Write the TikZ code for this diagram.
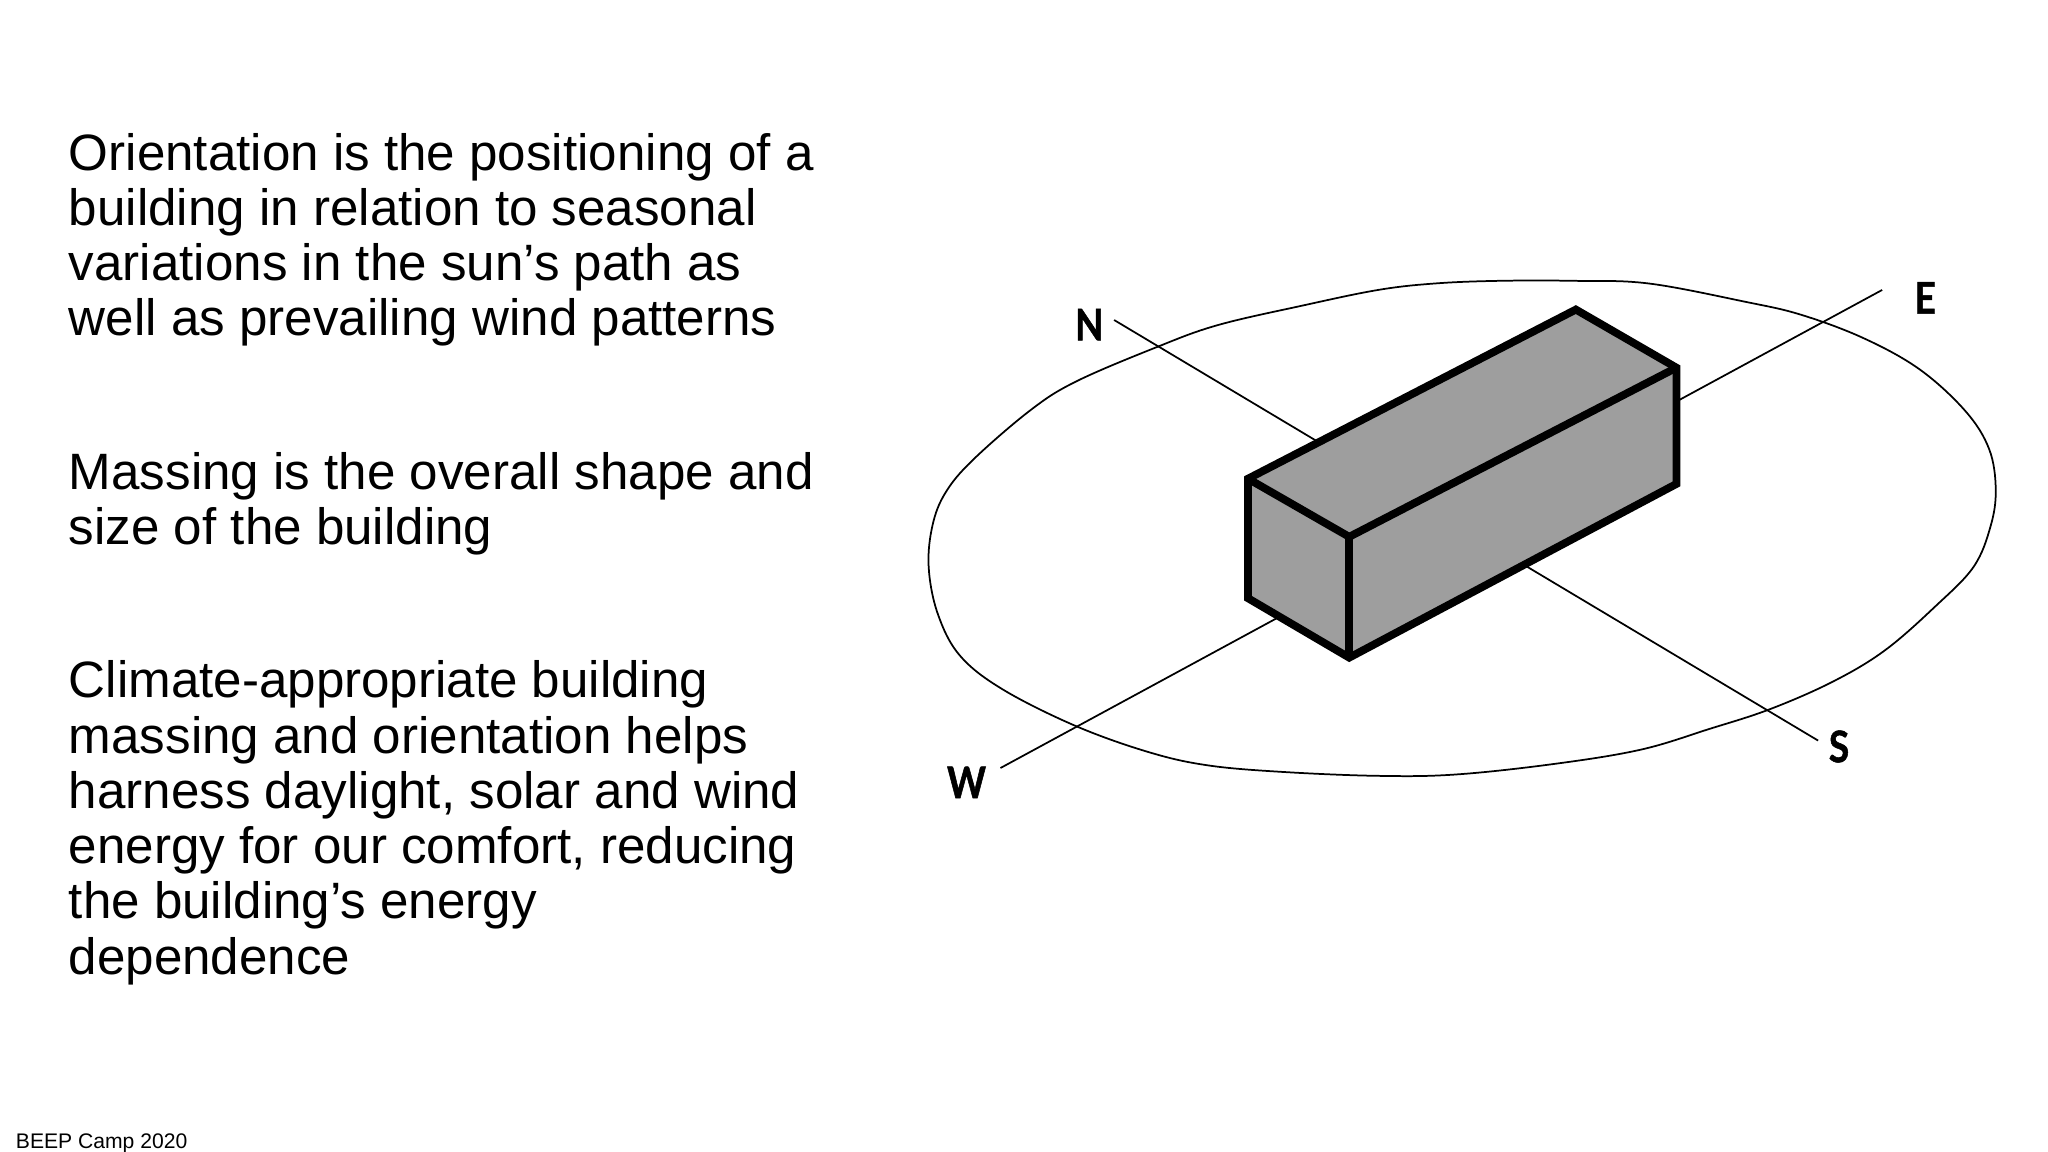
\documentclass[tikz,border=0pt]{standalone}
\usepackage{fontspec}
\setmainfont{Liberation Sans}
\newfontfamily\compassfont[FakeStretch=0.85,BoldFeatures={FakeBold=1.2}]{Lato}
\definecolor{massgray}{HTML}{9E9E9E}
\tikzset{
    bodytext/.style={anchor=north west, inner sep=0pt, align=left,
                     font=\fontsize{11.14pt}{12.03pt}\selectfont},
    compass/.style={inner sep=0pt, font=\compassfont\bfseries\fontsize{9.5pt}{10pt}\selectfont},
    axisline/.style={line width=0.38pt},
    massline/.style={line width=1.7pt, line join=miter},
}
\begin{document}
\begin{tikzpicture}[x=0.1mm, y=-0.1mm]
    \useasboundingbox (0, 0) rectangle (1568, 882);

    \node[bodytext] (orientation) at (52, 101.3) {Orientation is the positioning of a\\
        building in relation to seasonal\\
        variations in the sun’s path as\\
        well as prevailing wind patterns};
    \node[bodytext] (massing) at (52, 345.5) {Massing is the overall shape and\\
        size of the building};
    \node[bodytext] (climate) at (52, 505.3) {Climate-appropriate building\\
        massing and orientation helps\\
        harness daylight, solar and wind\\
        energy for our comfort, reducing\\
        the building’s energy\\
        dependence};
    \node[anchor=base west, inner sep=0pt, font=\fontsize{4.6pt}{5pt}\selectfont]
        (footer) at (11.5, 879) {BEEP Camp 2020};

    % site outline
    \draw[axisline] plot[smooth cycle, tension=0.6] coordinates {
        (1148,215) (1205,215) (1262,217) (1336,231) (1379,241) (1427,259)
        (1470,283) (1505,315) (1523,344) (1528,375) (1524,403) (1511,434)
        (1482,464) (1443,498) (1403,522) (1355,543) (1309,558) (1256,574)
        (1189,585) (1114,593) (1055,594) (982,591) (925,586) (880,576)
        (824,556) (768,528) (735,502) (718,470) (711,434) (714,402)
        (724,377) (745,352) (789,314) (824,292) (885,266) (932,249)
        (997,234) (1055,222) (1099,217)};

    % compass axes
    \node[compass] (north) at (834, 248.5) {N};
    \node[compass] (east) at (1474, 228) {E};
    \node[compass] (south) at (1408, 571.5) {S};
    \node[compass] (west) at (740, 599) {W};
    \coordinate (northend) at (853, 245);
    \coordinate (eastend) at (1441, 222);
    \coordinate (southend) at (1392, 567);
    \coordinate (westend) at (766, 588);
    \draw[axisline] (northend) -- (southend);
    \draw[axisline] (westend) -- (eastend);

    % building block
    \coordinate (topleft) at (955.5, 366.5);
    \coordinate (topback) at (1206.5, 237);
    \coordinate (topright) at (1283.5, 281.5);
    \coordinate (topfront) at (1033, 411);
    \coordinate (lowright) at (1283.5, 370.5);
    \coordinate (lowfront) at (1033, 503.5);
    \coordinate (lowleft) at (955.5, 458);
    \draw[massline, fill=massgray] (topleft) -- (topback) -- (topright) -- (lowright)
        -- (lowfront) -- (lowleft) -- cycle;
    \draw[massline] (topleft) -- (topfront) -- (topright);
    \draw[massline] (topfront) -- (lowfront);

\end{tikzpicture}
\end{document}
